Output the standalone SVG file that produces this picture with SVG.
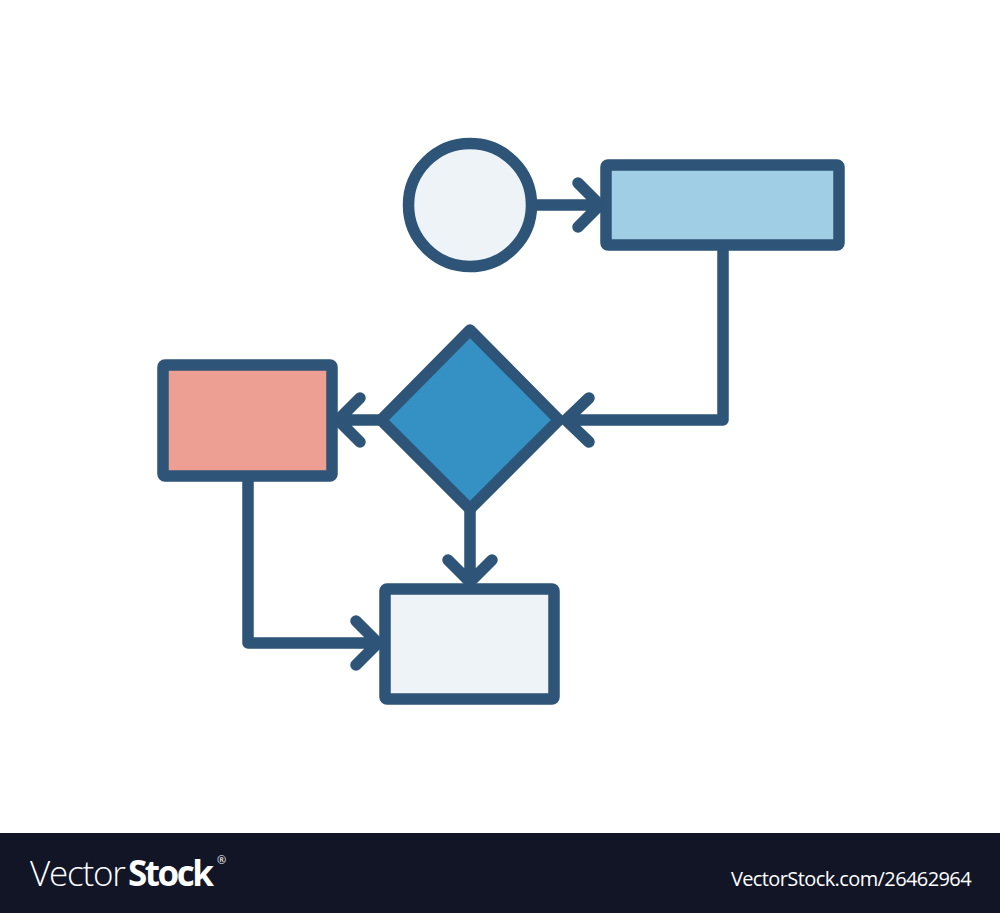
<svg xmlns="http://www.w3.org/2000/svg" width="1000" height="913" viewBox="0 0 1000 913">
<style>
.s{stroke:#2e5478;stroke-width:11.5;stroke-linejoin:round;stroke-linecap:round}
.c{fill:none;stroke:#2e5478;stroke-width:11.5;stroke-linejoin:round;stroke-linecap:round}
.t{font-family:"Open Sans","Liberation Sans",sans-serif;fill:#ffffff}
</style>
<rect x="0" y="0" width="1000" height="913" fill="#ffffff"/>
<g id="connectors">
<path class="c" d="M537 205 H598 M578 183 L600 205 L578 227"/>
<path class="c" d="M723 251 V420 H567 M589 398 L566 420 L589 442"/>
<path class="c" d="M382 420 H340 M360 398 L338 420 L360 442"/>
<path class="c" d="M470 510 V581 M448 560 L470 582 L492 560"/>
<path class="c" d="M248 482 V643 H377 M356 621 L378 643 L356 665"/>
</g>
<g id="start"><circle class="s" cx="470" cy="205" r="61.5" fill="#eef3f8"/></g>
<g id="process1"><rect class="s" x="606" y="165" width="233" height="80" rx="2" fill="#a0cfe5"/></g>
<g id="decision"><polygon class="s" points="470,330 559,420 470,509 381,420" fill="#3590c4" stroke-linejoin="miter"/></g>
<g id="process2"><rect class="s" x="163" y="365" width="169" height="111" rx="2" fill="#ee9f94"/></g>
<g id="end"><rect class="s" x="385" y="589" width="169" height="110" rx="2" fill="#eef3f8"/></g>
<g id="footer">
<rect x="0" y="833" width="1000" height="80" fill="#121526"/>
<text class="t" x="30" y="886" font-size="35" font-weight="300" letter-spacing="-1.2">Vector</text>
<text class="t" x="128" y="886" font-size="35" font-weight="700" letter-spacing="-2.5">Stock</text>
<text class="t" x="217" y="864" font-size="11">®</text>
<text class="t" x="971" y="886" font-size="20" text-anchor="end" letter-spacing="-0.6">VectorStock.com/26462964</text>
</g>
</svg>
